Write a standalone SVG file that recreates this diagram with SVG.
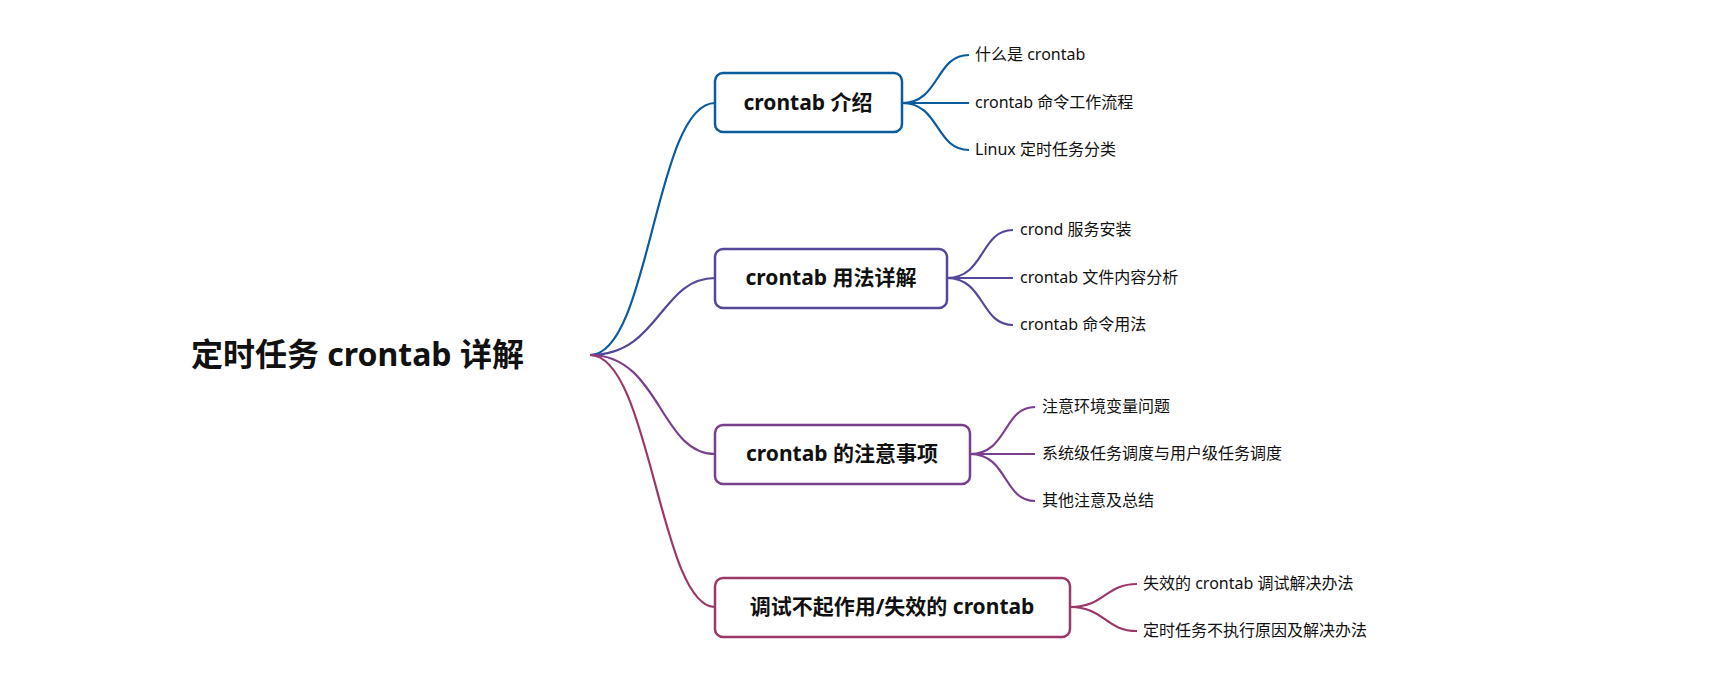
<svg xmlns="http://www.w3.org/2000/svg" width="1712" height="675" viewBox="0 0 1712 675">
<style>
text{font-family:"Noto Sans","Noto Sans CJK SC",sans-serif;fill:#111}
.root{font-size:32px;font-weight:bold}
.box{fill:#fff;stroke-width:2.5}
.bt{font-size:21px;font-weight:bold}
.ct{font-size:16px}
.c{fill:none;stroke-width:2.2}
</style>
<rect width="1712" height="675" fill="#fff"/>
<g id="connectors">
<path class="c" stroke="#0b5c9e" d="M590,355 C650,355 655,103 715,103"/>
<path class="c" stroke="#55489a" d="M590,355 C660,355 660,278 715,278"/>
<path class="c" stroke="#783f8d" d="M590,355 C660,355 660,454 715,454"/>
<path class="c" stroke="#9c3868" d="M590,355 C650,355 660,607 715,607"/>
<g stroke="#0b5c9e" class="c"><path d="M902,103 C940,103 935,55 969,55"/><path d="M902,103 H969"/><path d="M902,103 C940,103 935,150 969,150"/></g>
<g stroke="#55489a" class="c"><path d="M947,278 C985,278 980,230 1013,230"/><path d="M947,278 H1013"/><path d="M947,278 C985,278 980,325 1013,325"/></g>
<g stroke="#783f8d" class="c"><path d="M970,454 C1008,454 1003,407 1035,407"/><path d="M970,454 H1035"/><path d="M970,454 C1008,454 1003,501 1035,501"/></g>
<g stroke="#9c3868" class="c"><path d="M1070,607 C1105,607 1105,584 1137,584"/><path d="M1070,607 C1105,607 1105,631 1137,631"/></g>
</g>
<g id="root"><text class="root" x="191" y="366">定时任务 crontab 详解</text></g>
<g id="n1"><rect class="box" stroke="#0b5c9e" x="715" y="73" width="187" height="59" rx="8"/><text class="bt" x="808" y="110" text-anchor="middle">crontab 介绍</text></g>
<g id="n2"><rect class="box" stroke="#55489a" x="715" y="249" width="232" height="59" rx="8"/><text class="bt" x="831" y="285" text-anchor="middle">crontab 用法详解</text></g>
<g id="n3"><rect class="box" stroke="#783f8d" x="715" y="425" width="255" height="59" rx="8"/><text class="bt" x="842" y="461" text-anchor="middle">crontab 的注意事项</text></g>
<g id="n4"><rect class="box" stroke="#9c3868" x="715" y="578" width="355" height="59" rx="8"/><text class="bt" x="892" y="614" text-anchor="middle">调试不起作用/失效的 crontab</text></g>
<g id="leaves">
<text class="ct" x="975" y="60">什么是 crontab</text>
<text class="ct" x="975" y="108">crontab 命令工作流程</text>
<text class="ct" x="975" y="155">Linux 定时任务分类</text>
<text class="ct" x="1020" y="235">crond 服务安装</text>
<text class="ct" x="1020" y="283">crontab 文件内容分析</text>
<text class="ct" x="1020" y="330">crontab 命令用法</text>
<text class="ct" x="1042" y="412">注意环境变量问题</text>
<text class="ct" x="1042" y="459">系统级任务调度与用户级任务调度</text>
<text class="ct" x="1042" y="506">其他注意及总结</text>
<text class="ct" x="1143" y="589">失效的 crontab 调试解决办法</text>
<text class="ct" x="1143" y="636">定时任务不执行原因及解决办法</text>
</g>
</svg>
